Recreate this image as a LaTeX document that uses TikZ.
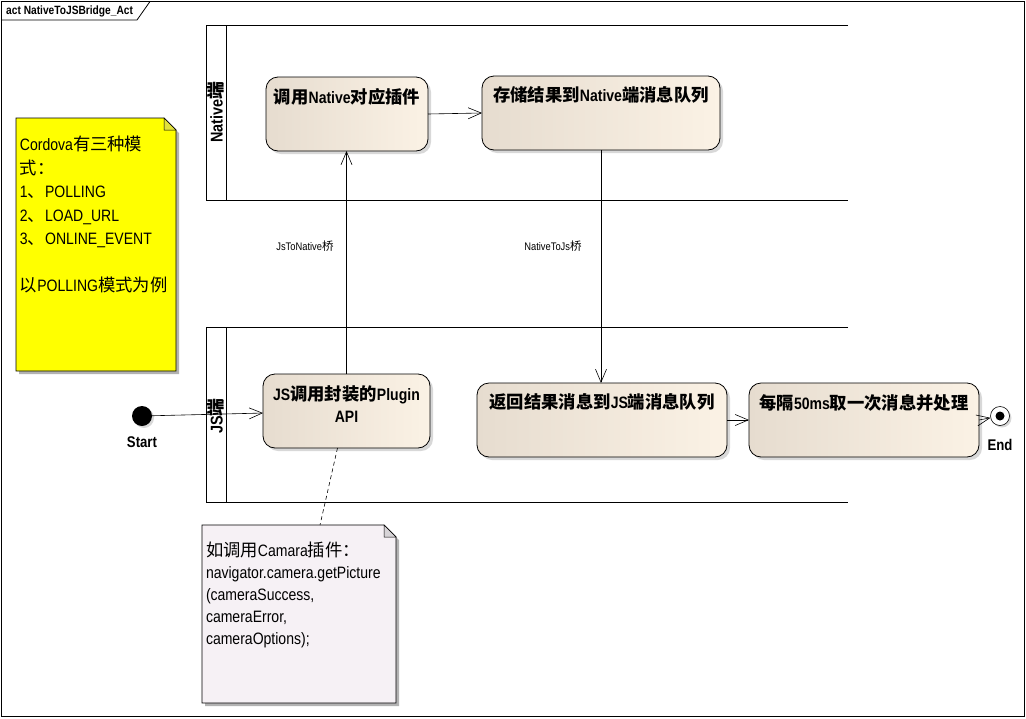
\documentclass[tikz,border=0pt]{standalone}
\usepackage{fontspec}
\setmainfont[FakeStretch=0.85]{Liberation Sans}
\newfontfamily\cjkf[Scale=1.05]{Noto Sans CJK SC}
\newcommand\cj[1]{{\cjkf #1}}
\usetikzlibrary{arrows.meta,shadows,backgrounds}
\definecolor{actL}{RGB}{230,220,207}
\definecolor{actR}{RGB}{251,242,229}
\definecolor{noteY}{RGB}{255,255,0}
\definecolor{noteYd}{RGB}{225,225,60}
\definecolor{noteP}{RGB}{246,241,245}
\definecolor{notePd}{RGB}{215,212,215}
\newcommand\acttext[3]{\parbox[c][74pt][t]{#1}{\vspace*{#2}\centering\fontsize{16.5}{22}\selectfont\bfseries #3\par}}
\newcommand\notetext[5]{\parbox[c][#2][t]{#1}{\vspace*{#3}\raggedright\leftskip=4pt\fontsize{16.5}{#4}\selectfont #5\par}}
\newcommand\noteoutline[3]{%
  \fill[black!30] ([shift={(3pt,-3pt)}]#1.north west) -- ([shift={(-9pt,-3pt)}]#1.north east) -- ([shift={(3pt,-15pt)}]#1.north east) -- ([shift={(3pt,-3pt)}]#1.south east) -- ([shift={(3pt,-3pt)}]#1.south west) -- cycle;
  \filldraw[fill=#2, draw=black, line width=0.8pt] (#1.north west) -- ([xshift=-12pt]#1.north east) -- ([yshift=-12pt]#1.north east) -- (#1.south east) -- (#1.south west) -- cycle;
  \filldraw[fill=#3, draw=black, line width=0.5pt] ([xshift=-12pt]#1.north east) -- ([xshift=-12pt,yshift=-12pt]#1.north east) -- ([yshift=-12pt]#1.north east) -- cycle;
}
\begin{document}
\begin{tikzpicture}[x=1pt,y=-1pt,
  act/.style={rounded corners=12pt, draw=black, line width=0.8pt,
    left color=actL, middle color=actR, right color=actR,
    drop shadow={shadow xshift=3pt,shadow yshift=-3pt,fill=black!30},
    inner sep=0pt, outer sep=0pt},
  flow/.style={-{Straight Barb[length=13pt,width=11pt]}, line width=0.6pt},
  lane/.style={line width=0.8pt},
  lanelbl/.style={rotate=90, font=\bfseries\fontsize{17}{19}\selectfont, inner sep=0pt},
  lbl/.style={font=\fontsize{11}{13}\selectfont, inner sep=0pt},
  endlbl/.style={font=\bfseries\fontsize{15.5}{17}\selectfont, inner sep=0pt},
  notebox/.style={inner sep=0pt, outer sep=0pt, anchor=north west}]
\useasboundingbox (0,0) rectangle (1026,718);
% frame and tab
\draw[line width=0.8pt] (1.5,1.5) rectangle (1024.5,716.5);
\draw[line width=0.8pt] (1.5,20) -- (137,20) -- (150,1.5);
\node[anchor=west, font=\bfseries\fontsize{12}{14}\selectfont, inner sep=0pt] (title) at (6,11) {act NativeToJSBridge\_Act};
% swimlanes
\draw[lane] (848,25) -- (206,25) -- (206,200) -- (848,200);
\draw[lane] (226,25) -- (226,200);
\draw[lane] (848,327) -- (206,327) -- (206,502) -- (848,502);
\draw[lane] (226,327) -- (226,502);
\node[lanelbl] (nlane) at (216,112) {Native\cj{端}};
\node[lanelbl] (jlane) at (216,416) {JS\cj{端}};
% actions
\node[act] (A) at (347,114) {\acttext{162pt}{11pt}{\cj{调用}Native\cj{对应插件}}};
\node[act] (B) at (601,113) {\acttext{238pt}{10pt}{\cj{存储结果到}Native\cj{端消息队列}}};
\node[act] (C) at (346.5,411) {\acttext{167pt}{12pt}{JS\cj{调用封装的}Plugin\\API}};
\node[act] (D) at (602,420) {\acttext{250pt}{10pt}{\cj{返回结果消息到}JS\cj{端消息队列}}};
\node[act] (E) at (864,420) {\acttext{230pt}{11pt}{\cj{每隔}50ms\cj{取一次消息并处理}}};
% start / end
\node[circle, fill=black, minimum size=20pt, inner sep=0pt,
  drop shadow={shadow xshift=2pt,shadow yshift=-2pt,fill=black!30}] (start) at (142,416) {};
\node[endlbl] (startl) at (142,442) {Start};
\node[circle, draw=black, fill=white, line width=0.6pt, minimum size=19pt, inner sep=0pt,
  drop shadow={shadow xshift=2pt,shadow yshift=-2pt,fill=black!30}] (end) at (1000,416) {};
\fill[black] (end.center) circle (4.5pt);
\node[endlbl] (endl) at (1000,445) {End};
% notes
\node[notebox] (N1) at (16,118) {\notetext{160pt}{253pt}{18pt}{23.5pt}{Cordova\cj{有三种模}\\\cj{式：}\\1\cj{、}POLLING\\2\cj{、}LOAD\_URL\\3\cj{、}ONLINE\_EVENT\\\mbox{}\\\cj{以}POLLING\cj{模式为例}}};
\node[notebox] (N2) at (202,525) {\notetext{194pt}{178pt}{17pt}{22pt}{\cj{如调用}Camara\cj{插件：}\\navigator.camera.getPicture\\(cameraSuccess,\\cameraError,\\cameraOptions);}};
\begin{scope}[on background layer]
\noteoutline{N1}{noteY}{noteYd}
\noteoutline{N2}{noteP}{notePd}
\end{scope}
% connectors
\draw[flow] (start) -- (C);
\draw[flow] (C.north) -- (C.north |- A.south);
\draw[flow] (A.east) -- (B.west);
\draw[flow] (B.south) -- (B.south |- D.north);
\draw[flow] (D.east) -- (E.west);
\draw[flow] (E.east) -- (end);
\draw[dashed, dash pattern=on 4pt off 3pt, line width=0.6pt] ([xshift=-9pt]C.south) -- ([xshift=21pt]N2.north);
\node[lbl] (l1) at (305,246) {JsToNative\cj{桥}};
\node[lbl] (l2) at (553,246) {NativeToJs\cj{桥}};
\end{tikzpicture}
\end{document}
